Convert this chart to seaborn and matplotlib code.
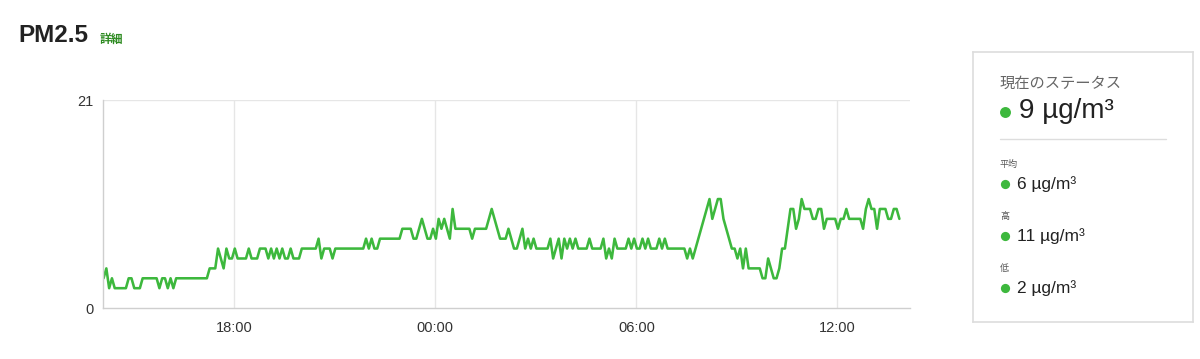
import numpy as np
import pandas as pd
import matplotlib
matplotlib.use("Agg")
import matplotlib.pyplot as plt
import matplotlib.dates as mdates
import seaborn as sns

# ---------------- data ----------------
start_time = "2024-05-01 14:06"
step = "5min"
pm25_values = [
    3, 4, 2, 3, 2, 2, 2, 2, 2, 3, 3, 2, 2, 2, 3, 3, 3, 3, 3, 3,
    2, 3, 3, 2, 3, 2, 3, 3, 3, 3, 3, 3, 3, 3, 3, 3, 3, 3, 4, 4,
    4, 6, 5, 4, 6, 5, 5, 6, 5, 5, 5, 5, 6, 5, 5, 5, 6, 6, 6, 5,
    6, 5, 6, 5, 6, 5, 5, 6, 5, 5, 5, 6, 6, 6, 6, 6, 6, 7, 5, 6,
    6, 6, 5, 6, 6, 6, 6, 6, 6, 6, 6, 6, 6, 6, 7, 6, 7, 6, 6, 7,
    7, 7, 7, 7, 7, 7, 7, 8, 8, 8, 8, 7, 7, 8, 9, 8, 7, 7, 8, 7,
    9, 8, 9, 8, 7, 10, 8, 8, 8, 8, 8, 8, 7, 8, 8, 8, 8, 8, 9, 10,
    9, 8, 7, 7, 7, 8, 7, 6, 6, 7, 8, 6, 7, 6, 7, 6, 6, 6, 6, 6,
    7, 5, 6, 7, 5, 7, 6, 7, 6, 7, 6, 6, 6, 6, 7, 6, 6, 6, 6, 7,
    5, 6, 5, 7, 6, 6, 6, 6, 7, 6, 7, 6, 6, 7, 6, 7, 6, 6, 6, 7,
    6, 7, 6, 6, 6, 6, 6, 6, 6, 5, 6, 5, 6, 7, 8, 9, 10, 11, 9, 10,
    11, 11, 9, 8, 7, 6, 6, 5, 6, 4, 6, 4, 4, 4, 4, 4, 3, 3, 5, 4,
    3, 3, 4, 6, 6, 8, 10, 10, 8, 9, 11, 10, 10, 10, 9, 9, 10, 10, 8, 9,
    9, 9, 9, 8, 9, 9, 10, 9, 9, 9, 9, 9, 8, 10, 11, 10, 10, 8, 10, 10,
    10, 9, 9, 10, 10, 9,
]
x_start = "2024-05-01 14:05"
x_end = "2024-05-02 14:10"
grid_times = ["2024-05-01 18:00", "2024-05-02 00:00", "2024-05-02 06:00", "2024-05-02 12:00"]
tick_labels = ["18:00", "00:00", "06:00", "12:00"]
y_ticks = [0, 21]

title = "PM2.5"
detail_label = "詳細"
status_title = "現在のステータス"
current_value = 9
unit = "µg/m³"
stat_labels = ["平均", "高", "低"]
stat_values = [6, 11, 2]

# ---------------- styling ----------------
GREEN = "#3db83d"
sns.set_theme(style="white")
plt.rcParams["font.family"] = ["Liberation Sans", "Noto Sans CJK JP", "DejaVu Sans"]

df = pd.DataFrame({
    "time": pd.date_range(start_time, periods=len(pm25_values), freq=step),
    "pm25": pm25_values,
})

W, H = 1200, 359
fig = plt.figure(figsize=(W / 100, H / 100), dpi=100)
fig.patch.set_facecolor("white")

# main axes (pixel box: left 103, right 910, top 100, bottom 308)
ax = fig.add_axes([103 / W, 1 - 308 / H, (910 - 103) / W, (308 - 100) / H])
sns.lineplot(data=df, x="time", y="pm25", ax=ax, color=GREEN, linewidth=1.85)

ax.set_xlim(pd.Timestamp(x_start), pd.Timestamp(x_end))
ax.set_ylim(0, 21)
ax.set_xlabel("")
ax.set_ylabel("")

gt = [pd.Timestamp(t) for t in grid_times]
ax.set_xticks(gt)
ax.set_xticklabels(tick_labels)
ax.set_yticks(y_ticks)
ax.set_yticklabels([str(v) for v in y_ticks])
ax.tick_params(axis="both", length=0, labelsize=10.5, labelcolor="#333333")
ax.tick_params(axis="x", pad=9.5)
ax.tick_params(axis="y", pad=7)

ax.grid(False)
for t in gt:
    ax.axvline(t, color="#e6e6e6", linewidth=1.0, zorder=0)
ax.axhline(21, color="#e6e6e6", linewidth=1.0, zorder=0)

for side in ["top", "right"]:
    ax.spines[side].set_visible(False)
ax.spines["left"].set_color("#cfcfcf")
ax.spines["bottom"].set_color("#cfcfcf")
ax.spines["left"].set_linewidth(1.0)
ax.spines["bottom"].set_linewidth(1.0)

# title
fig.text(18 / W, 1 - 36 / H, title, fontsize=17.5, fontweight="bold",
         color="#222222", va="center", ha="left")
fig.text(100 / W, 1 - 39.5 / H, detail_label, fontsize=8.5, fontweight="bold",
         color="#2e8b22", va="center", ha="left",
         family=["Noto Sans CJK JP", "DejaVu Sans"])

# status panel
pax = fig.add_axes([973 / W, 1 - 322 / H, (1193 - 973) / W, (322 - 52) / H])
pax.set_xlim(0, 220)
pax.set_ylim(270, 0)
pax.set_xticks([])
pax.set_yticks([])
for s in pax.spines.values():
    s.set_color("#dddddd")
    s.set_linewidth(1.2)
pax.set_facecolor("white")

pax.text(27, 31, status_title, fontsize=11, color="#666666", va="center", ha="left",
         family=["Noto Sans CJK JP", "DejaVu Sans"])
pax.scatter([32], [60], s=62, color=GREEN, zorder=3, linewidths=0)
pax.text(46, 59, f"{current_value} {unit}", fontsize=20, color="#222222",
         va="center", ha="left")
pax.plot([27, 193], [87, 87], color="#dddddd", linewidth=1.0)

label_y = [112, 164, 217]
value_y = [132, 184, 236]
for lab, val, ly, vy in zip(stat_labels, stat_values, label_y, value_y):
    pax.text(27, ly, lab, fontsize=6.5, color="#555555", va="center", ha="left",
             family=["Noto Sans CJK JP", "DejaVu Sans"])
    pax.scatter([32], [vy], s=44, color=GREEN, zorder=3, linewidths=0)
    pax.text(44, vy, f"{val} {unit}", fontsize=12.5, color="#222222",
             va="center", ha="left")

fig.savefig("out.png", dpi=100, facecolor="white")
